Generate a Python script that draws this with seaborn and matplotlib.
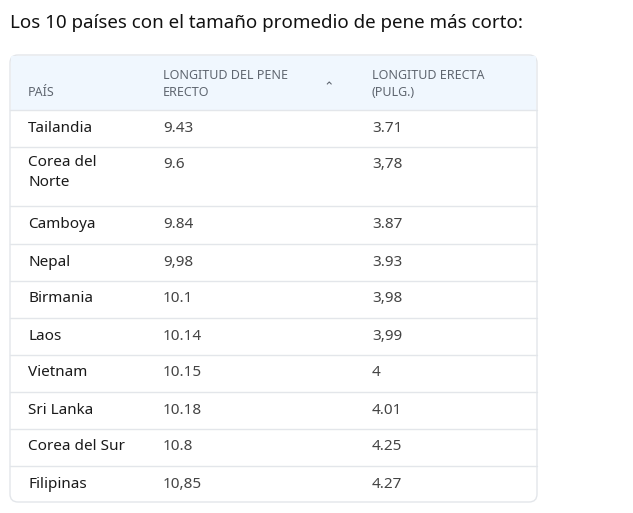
import matplotlib
matplotlib.use("Agg")
import matplotlib.pyplot as plt
import seaborn as sns
from matplotlib.patches import FancyBboxPatch, Rectangle

sns.set_theme(style="white")
plt.rcParams['font.family'] = ['Noto Sans', 'DejaVu Sans']

title = "Los 10 países con el tamaño promedio de pene más corto:"
headers = ["PAÍS", "LONGITUD DEL PENE\nERECTO", "LONGITUD ERECTA\n(PULG.)"]
paises = ["Tailandia", "Corea del\nNorte", "Camboya", "Nepal", "Birmania", "Laos",
          "Vietnam", "Sri Lanka", "Corea del Sur", "Filipinas"]
cm = ["9.43", "9.6", "9.84", "9,98", "10.1", "10.14", "10.15", "10.18", "10.8", "10,85"]
pulg = ["3.71", "3,78", "3.87", "3.93", "3,98", "3,99", "4", "4.01", "4.25", "4.27"]

# row separators (pixel y) and column x positions
row_edges = [110, 147, 206, 244, 281, 318, 355, 392, 429, 466, 502]
col_x = [28, 163, 372]

fig = plt.figure(figsize=(6.33, 5.13), dpi=100)
ax = fig.add_axes([0, 0, 1, 1])
ax.set_xlim(0, 633)
ax.set_ylim(513, 0)
ax.axis("off")

ax.text(10, 23, title, fontsize=13.5, fontweight="bold", color="#111111", va="center")

# table box
ax.add_patch(FancyBboxPatch((10, 55), 527, 447, boxstyle="round,pad=0,rounding_size=8",
                            fc="white", ec="#e3e6ea", lw=1, zorder=1))
ax.add_patch(Rectangle((11, 56), 525, 54, fc="#f0f7fe", ec="none", zorder=2))
ax.plot([10, 537], [110, 110], color="#e3e6ea", lw=1, zorder=3)

hc = "#5f6670"
ax.text(col_x[0], 93, headers[0], fontsize=9, color=hc, va="center", zorder=4)
ax.text(col_x[1], 84, headers[1], fontsize=9, color=hc, va="center", linespacing=1.35, zorder=4)
ax.text(col_x[2], 84, headers[2], fontsize=9, color=hc, va="center", linespacing=1.35, zorder=4)
ax.text(329, 88, "⌃", fontsize=9, color=hc, ha="center", va="center", zorder=4)

for i, (p, a, b) in enumerate(zip(paises, cm, pulg)):
    top, bot = row_edges[i], row_edges[i + 1]
    if i < len(paises) - 1:
        ax.plot([10, 537], [bot, bot], color="#e3e6ea", lw=1, zorder=3)
    y = top + 18
    if "\n" in p:
        ax.text(col_x[0], top + 8, p, fontsize=11, fontweight="bold", color="#1a1a1a",
                va="top", linespacing=1.45, zorder=4)
    else:
        ax.text(col_x[0], y, p, fontsize=11, fontweight="bold", color="#1a1a1a",
                va="center", zorder=4)
    ax.text(col_x[1], y, a, fontsize=11, color="#444444", va="center", zorder=4)
    ax.text(col_x[2], y, b, fontsize=11, color="#444444", va="center", zorder=4)

fig.savefig("out.png", dpi=100)
